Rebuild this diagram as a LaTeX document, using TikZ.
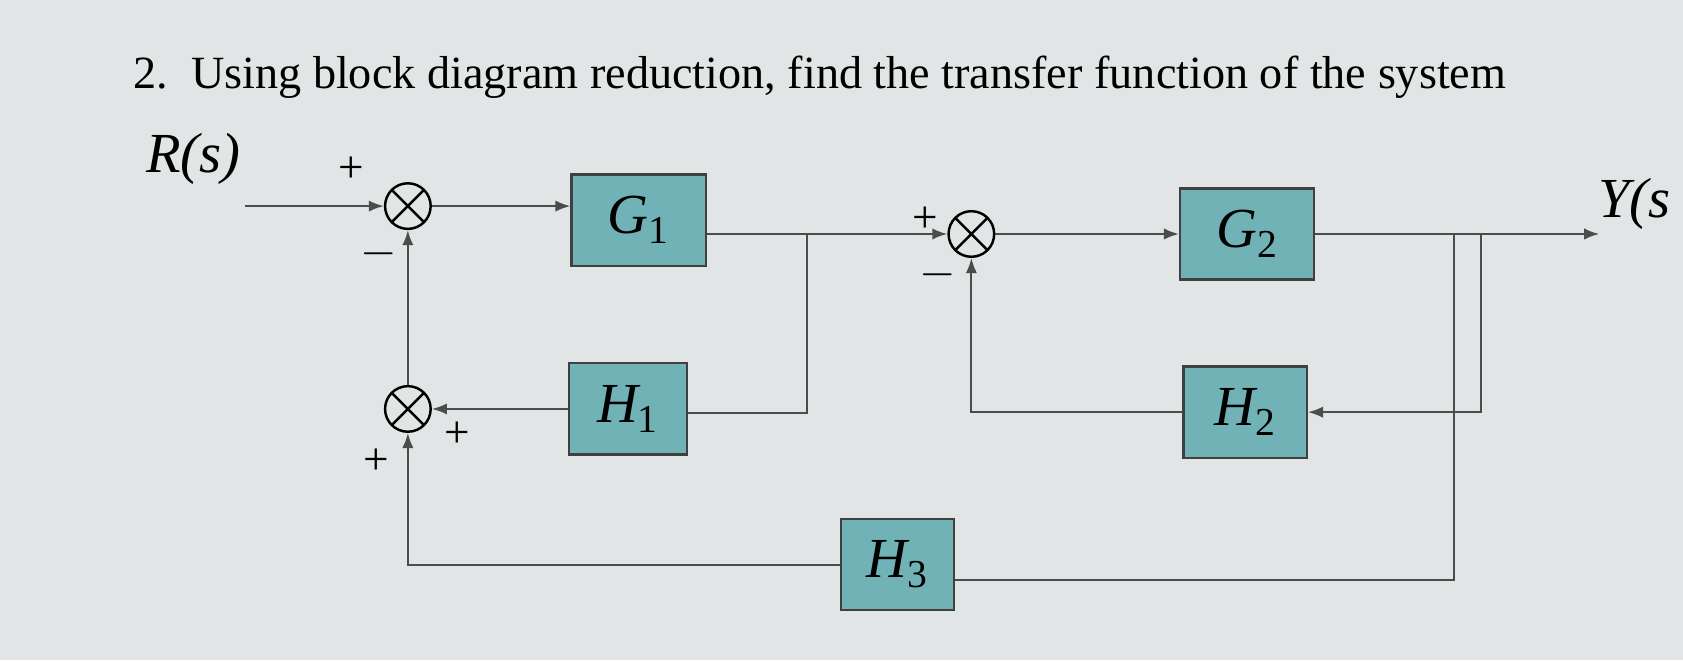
\documentclass[tikz,border=0pt]{standalone}
\usepackage{fontspec}
\setmainfont{Liberation Serif}
\usetikzlibrary{arrows.meta}
\definecolor{bg}{RGB}{226,229,229}
\definecolor{boxc}{RGB}{112,178,182}
\newcommand{\sbs}[1]{\textsubscript{\upshape #1}}
\begin{document}
\begin{tikzpicture}[x=0.02cm,y=-0.02cm,
  blk/.style={draw=black!75,line width=1.2pt,fill=boxc,minimum width=2.5cm,minimum height=1.7cm,font=\fontsize{30}{30}\selectfont\itshape},
  sumj/.style={circle,draw=black,line width=1.3pt,minimum size=0.85cm,inner sep=0pt,path picture={\draw[line width=1.3pt] (path picture bounding box.north west)--(path picture bounding box.south east) (path picture bounding box.north east)--(path picture bounding box.south west);}},
  ln/.style={draw=black!70,line width=1.1pt},
  ar/.style={ln,-{Latex[length=8pt,width=6pt]}},
  sg/.style={font=\fontsize{24}{24}\selectfont}]
\fill[bg] (0,0) rectangle (1568,615);
\useasboundingbox (0,0) rectangle (1568,615);
\node[anchor=west,font=\fontsize{24.5}{25}\selectfont] (title) at (118,72) {2.\ \ Using block diagram reduction, find the transfer function of the system};
\node[font=\fontsize{30}{30}\selectfont\itshape] (R) at (180,148) {R(s)};
\node[font=\fontsize{30}{30}\selectfont\itshape,anchor=west] (Y) at (1483,190) {Y(s};
\node[sumj] (s1) at (380,192) {};
\node[sumj] (s2) at (905,218) {};
\node[sumj] (s3) at (380,381) {};
\node[blk] (G1) at (595,205) {G\sbs{1}};
\node[blk] (G2) at (1162,218) {G\sbs{2}};
\node[blk,minimum width=2.2cm] (H1) at (585,381) {H\sbs{1}};
\node[blk,minimum width=2.3cm] (H2) at (1160,384) {H\sbs{2}};
\node[blk,minimum width=2.1cm] (H3) at (836,526) {H\sbs{3}};
\coordinate (in) at (228,192);
\coordinate (b1) at (752,218);
\coordinate (b1d) at (752,385);
\coordinate (out) at (1490,218);
\coordinate (b2) at (1380,218);
\coordinate (b2d) at (1380,384);
\coordinate (b3) at (1355,218);
\coordinate (b3d) at (1355,540);
\coordinate (h3l) at (380,526);
\coordinate (h2l) at (905,384);
\draw[ar] (in) -- (s1);
\draw[ar] (s1) -- (s1 -| G1.west);
\draw[ar] (G1.east |- s2) -- (s2);
\draw[ar] (s2) -- (G2);
\draw[ar] (G2) -- (out);
\draw[ln] (b1) -- (b1d) -- (H1.east |- b1d);
\draw[ar] (H1) -- (s3);
\draw[ar] (s3) -- (s1);
\draw[ln] (b3) -- (b3d) -- (H3.east |- b3d);
\draw[ar] (H3.west) -- (h3l) -- (s3);
\draw[ar] (b2) -- (b2d) -- (H2);
\draw[ar] (H2) -- (h2l) -- (s2);
\node[sg] (p1) at (327,158) {+};
\node[sg] (m1) at (353,236) {$-$};
\node[sg] (p2) at (862,205) {+};
\node[sg] (m2) at (874,256) {$-$};
\node[sg] (p3) at (426,405) {+};
\node[sg] (p4) at (351,430) {+};
\end{tikzpicture}
\end{document}
